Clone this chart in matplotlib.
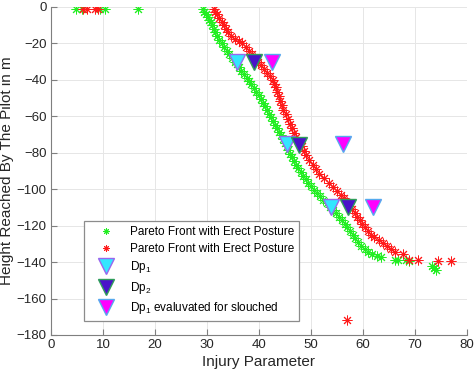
#!/usr/bin/env python3
import matplotlib

matplotlib.use("Agg")
import matplotlib.pyplot as plt

# green series: Pareto front, erect posture (first entry)
green_x = [4.9, 5.9, 9.4, 10.4, 16.8,
           29.3, 29.5, 29.8, 30.1, 30.4, 30.7, 31.0, 31.3, 31.6, 32.0, 32.4, 32.8, 33.3, 33.8,
           34.3, 34.8, 35.3, 35.7, 36.1, 36.6, 37.1, 37.6, 38.0, 38.5, 39.0, 39.5, 40.0, 40.4,
           40.8, 41.2, 41.6, 42.0, 42.3, 42.7, 43.1, 43.5, 43.9, 44.3, 44.6, 45.0, 45.3, 45.6,
           46.0, 46.3, 46.7, 47.1, 47.5, 48.0, 48.5, 49.0, 49.5, 50.0, 50.5, 51.1, 51.8, 52.4,
           53.0, 53.6, 54.2, 54.8, 55.4, 55.9, 56.5, 57.0, 57.5, 58.0, 58.5, 59.1, 59.7, 60.3,
           61.0, 61.8, 62.6, 63.4, 66.2, 66.8, 68.3, 68.8, 73.2, 73.6, 74.1]
green_y = [-1, -1, -1, -1, -1,
           -1, -2.5, -4, -5.5, -7, -8.5, -10, -12, -14, -16, -18, -20, -22, -24,
           -26, -28, -30, -31.5, -33, -35, -37, -39, -40.5, -42.5, -44.5, -46.5, -48.5, -50.5,
           -52.5, -54.5, -56.5, -58.5, -60.5, -62.5, -64.5, -66.5, -68.5, -70.5, -72.5, -74.5, -76.5, -78.5,
           -80.5, -82.5, -84.5, -86.5, -88.5, -90.5, -92.5, -94.5, -96.5, -98.5, -100.5, -102.3, -104, -106,
           -107.8, -109.5, -111.3, -113, -115, -117, -119, -121, -123, -125, -127, -129, -131, -133,
           -134.5, -135.8, -136.8, -137.3, -138.8, -139, -139, -139.3, -142.3, -143.3, -144.5]

# red series: Pareto front, erect posture (second entry)
red_x = [6.2, 6.9, 8.5, 9.1,
         31.3, 31.6, 32.0, 32.4, 32.8, 33.2, 33.6, 34.1, 34.7, 35.4, 36.1, 36.8, 37.5, 38.1,
         38.6, 39.2, 39.8, 40.4, 41.0, 41.6, 42.2, 42.6, 42.9, 43.2, 43.5, 43.8, 44.1, 44.4,
         44.7, 45.1, 45.5, 45.9, 46.3, 46.7, 47.2, 47.7, 48.2, 48.6, 49.1, 49.7, 50.3, 50.9,
         51.6, 52.5, 53.4, 54.3, 55.0, 55.7, 56.3, 56.9, 57.4, 57.9, 58.4, 58.9, 59.4, 59.9,
         60.4, 60.9, 61.5, 62.2, 63.0, 63.8, 64.6, 65.4, 66.2, 67.6, 68.9, 70.5, 74.5, 77.0,
         57.0]
red_y = [-1, -1, -1, -1,
         -1.3, -2.5, -4, -6, -8, -10, -12, -14, -16, -17.5, -18.5, -20, -22, -24,
         -26, -28, -30, -32, -34, -36, -38, -40, -42, -44, -46.5, -49, -51.5, -54,
         -56.5, -59, -61.5, -64, -66.5, -69, -71.5, -74, -76.5, -79, -81.5, -84, -86.5, -89,
         -91.5, -94, -96.5, -99, -101, -103, -105, -107, -109, -111, -113, -115, -117, -119,
         -121, -123, -125, -126.5, -128, -129.5, -131, -132.8, -134.2, -135.5, -138.8, -139, -139.2, -139.5,
         -172]

dp1_x = [35.8, 45.3, 53.8]
dp1_y = [-30, -75.4, -109.6]
dp2_x = [39.0, 47.7, 57.1]
dp2_y = [-30, -76, -110]
slouch_x = [42.5, 56.2, 62.0]
slouch_y = [-30, -75.4, -110]

labels = [
    "Pareto Front with Erect Posture",
    "Pareto Front with Erect Posture",
    "Dp$_1$",
    "Dp$_2$",
    "Dp$_1$ evaluvated for slouched",
]

plt.rcParams.update({
    "font.family": ["Liberation Sans", "DejaVu Sans"],
    "mathtext.fontset": "custom",
    "mathtext.rm": "Liberation Sans",
    "mathtext.it": "Liberation Sans",
})

fig = plt.figure(figsize=(4.74, 3.75), dpi=100)
ax = fig.add_axes([0.1076, 0.1067, 0.8776, 0.8747])

star = (8, 2, 0)
ax.plot(green_x, green_y, ls="none", marker=star, ms=7, mew=0.7,
        color="#22EE22", label=labels[0])
ax.plot(red_x, red_y, ls="none", marker=star, ms=7, mew=0.7,
        color="#FF1A1A", label=labels[1])
ax.plot(dp1_x, dp1_y, ls="none", marker="v", ms=12, mew=1.0,
        mfc="#33E6FF", mec="#9966EE", label=labels[2])
ax.plot(dp2_x, dp2_y, ls="none", marker="v", ms=12, mew=1.0,
        mfc="#4A12C8", mec="#2E9E5A", label=labels[3])
ax.plot(slouch_x, slouch_y, ls="none", marker="v", ms=12, mew=1.0,
        mfc="#FF00FF", mec="#55AAEE", label=labels[4])

ax.set_xlim(0, 80)
ax.set_ylim(-180, 0)
ax.set_xticks(range(0, 81, 10))
ax.set_yticks(range(-180, 1, 20))
ax.grid(True, color="#E6E6E6", linewidth=0.7)
ax.set_axisbelow(True)
for side in ("top", "right"):
    ax.spines[side].set_visible(False)
for side in ("left", "bottom"):
    ax.spines[side].set_color("#7F7F7F")
    ax.spines[side].set_linewidth(0.8)
ax.tick_params(direction="in", length=4, color="#7F7F7F", labelsize=9.5,
               labelcolor="#262626", pad=3)
ax.set_xlabel("Injury Parameter", fontsize=11, color="#262626", labelpad=3)
ax.set_ylabel("Height Reached By The Pilot in m", fontsize=11, color="#262626", labelpad=2)

leg = ax.legend(loc="lower left", bbox_to_anchor=(0.079, 0.043), fontsize=8.5,
                fancybox=False, edgecolor="#8C8C8C", framealpha=1,
                borderpad=0.4, labelspacing=0.38, handletextpad=0.5,
                handlelength=3.0, borderaxespad=0)
leg.get_frame().set_linewidth(0.9)
for h in leg.legend_handles[:2]:
    h.set_markersize(4.5)
for h in leg.legend_handles[2:]:
    h.set_markersize(11)

fig.savefig("out.png", dpi=100)
